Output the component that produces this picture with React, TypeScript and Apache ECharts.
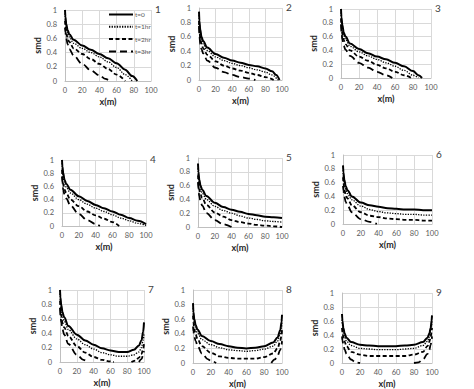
import { useEffect, useRef } from 'react';
import * as echarts from 'echarts';

const SERIES_NAMES = ['t=0', 't=1hr', 't=2hr', 't=3hr'];
const X_AXIS_NAME = 'x(m)';
const Y_AXIS_NAME = 'smd';
const PANEL_LABELS = ['1', '2', '3', '4', '5', '6', '7', '8', '9'];

// Panel 1
const p1_t0 = [[0,1],[0.5,0.9],[1.5,0.8],[3,0.72],[5,0.66],[10,0.58],[20,0.5],[30,0.44],[40,0.38],[50,0.32],[60,0.25],[70,0.16],[78,0.07],[84,0]];
const p1_t1 = [[0,0.95],[0.5,0.85],[1.5,0.75],[3,0.67],[5,0.62],[10,0.53],[20,0.46],[30,0.4],[40,0.34],[50,0.27],[60,0.19],[70,0.09],[78,0]];
const p1_t2 = [[0,0.85],[0.5,0.77],[1.5,0.68],[3,0.6],[5,0.55],[10,0.46],[20,0.38],[30,0.31],[40,0.24],[50,0.17],[60,0.09],[70,0]];
const p1_t3 = [[0,0.75],[0.5,0.68],[1.5,0.6],[3,0.52],[5,0.45],[10,0.36],[20,0.24],[30,0.15],[40,0.08],[47,0.03],[52,0]];
// Panel 2
const p2_t0 = [[0,0.95],[0.5,0.82],[1.5,0.7],[3,0.6],[5,0.54],[10,0.45],[20,0.36],[30,0.31],[40,0.27],[50,0.24],[60,0.21],[70,0.19],[80,0.16],[88,0.12],[93,0.07],[97,0]];
const p2_t1 = [[0,0.9],[0.5,0.77],[1.5,0.65],[3,0.56],[5,0.5],[10,0.41],[20,0.32],[30,0.27],[40,0.23],[50,0.2],[60,0.17],[70,0.14],[80,0.11],[88,0.07],[95,0]];
const p2_t2 = [[0,0.82],[0.5,0.7],[1.5,0.58],[3,0.5],[5,0.44],[10,0.35],[20,0.26],[30,0.2],[40,0.16],[50,0.13],[60,0.1],[70,0.07],[80,0.04],[90,0]];
const p2_t3 = [[0,0.75],[0.5,0.62],[1.5,0.5],[3,0.43],[5,0.37],[10,0.27],[20,0.17],[30,0.11],[40,0.07],[50,0.04],[60,0.02],[68,0]];
// Panel 3
const p3_t0 = [[0,1],[0.5,0.88],[1.5,0.77],[3,0.66],[5,0.6],[10,0.5],[20,0.42],[30,0.36],[40,0.31],[50,0.27],[60,0.22],[70,0.17],[80,0.1],[86,0.04],[90,0]];
const p3_t1 = [[0,0.95],[0.5,0.83],[1.5,0.72],[3,0.62],[5,0.56],[10,0.46],[20,0.38],[30,0.32],[40,0.27],[50,0.22],[60,0.17],[70,0.11],[80,0.04],[86,0]];
const p3_t2 = [[0,0.86],[0.5,0.75],[1.5,0.64],[3,0.55],[5,0.49],[10,0.4],[20,0.31],[30,0.25],[40,0.19],[50,0.14],[60,0.09],[70,0.04],[78,0]];
const p3_t3 = [[0,0.78],[0.5,0.67],[1.5,0.56],[3,0.47],[5,0.41],[10,0.32],[20,0.22],[30,0.15],[40,0.09],[50,0.04],[57,0]];
// Panel 4
const p4_t0 = [[0,1],[0.5,0.9],[1.5,0.8],[3,0.7],[5,0.64],[10,0.55],[20,0.45],[30,0.38],[40,0.32],[50,0.27],[60,0.22],[70,0.17],[80,0.12],[90,0.08],[100,0.03]];
const p4_t1 = [[0,0.95],[0.5,0.84],[1.5,0.73],[3,0.64],[5,0.59],[10,0.5],[20,0.4],[30,0.33],[40,0.27],[50,0.22],[60,0.17],[70,0.12],[80,0.08],[90,0.04],[100,0.01]];
const p4_t2 = [[0,0.85],[0.5,0.74],[1.5,0.63],[3,0.55],[5,0.5],[10,0.4],[20,0.3],[30,0.22],[40,0.16],[50,0.11],[60,0.06],[68,0]];
const p4_t3 = [[0,0.75],[0.5,0.65],[1.5,0.55],[3,0.47],[5,0.42],[10,0.31],[20,0.18],[30,0.09],[40,0.03],[45,0]];
// Panel 5
const p5_t0 = [[0,0.92],[0.5,0.8],[1.5,0.69],[3,0.6],[5,0.54],[10,0.45],[20,0.35],[30,0.29],[40,0.25],[50,0.22],[60,0.19],[70,0.17],[80,0.15],[90,0.14],[100,0.13]];
const p5_t1 = [[0,0.85],[0.5,0.74],[1.5,0.63],[3,0.55],[5,0.49],[10,0.4],[20,0.3],[30,0.24],[40,0.2],[50,0.16],[60,0.13],[70,0.11],[80,0.09],[90,0.08],[100,0.07]];
const p5_t2 = [[0,0.75],[0.5,0.65],[1.5,0.55],[3,0.47],[5,0.42],[10,0.32],[20,0.21],[30,0.15],[40,0.1],[50,0.07],[60,0.05],[70,0.03],[80,0.02],[90,0.01],[100,0]];
const p5_t3 = [[0,0.65],[0.5,0.55],[1.5,0.45],[3,0.37],[5,0.31],[10,0.2],[20,0.1],[30,0.04],[40,0]];
// Panel 6
const p6_t0 = [[0,0.85],[0.5,0.75],[1.5,0.64],[3,0.55],[5,0.49],[10,0.4],[20,0.31],[30,0.27],[40,0.25],[50,0.23],[60,0.22],[70,0.21],[80,0.21],[90,0.2],[100,0.2]];
const p6_t1 = [[0,0.78],[0.5,0.68],[1.5,0.58],[3,0.5],[5,0.44],[10,0.35],[20,0.26],[30,0.21],[40,0.18],[50,0.16],[60,0.15],[70,0.14],[80,0.14],[90,0.13],[100,0.13]];
const p6_t2 = [[0,0.68],[0.5,0.6],[1.5,0.5],[3,0.42],[5,0.37],[10,0.27],[20,0.17],[30,0.12],[40,0.1],[50,0.08],[60,0.07],[70,0.06],[80,0.06],[90,0.05],[100,0.05]];
const p6_t3 = [[0,0.55],[0.5,0.48],[1.5,0.4],[3,0.32],[5,0.27],[10,0.17],[20,0.07],[30,0.03],[38,0]];
// Panel 7
const p7_t0 = [[0,1],[0.5,0.9],[1.5,0.79],[3,0.69],[5,0.62],[10,0.5],[20,0.38],[30,0.3],[40,0.24],[50,0.19],[60,0.16],[70,0.14],[80,0.14],[88,0.17],[94,0.23],[97,0.3],[99,0.42],[100,0.55]];
const p7_t1 = [[0,0.95],[0.5,0.84],[1.5,0.73],[3,0.63],[5,0.57],[10,0.45],[20,0.32],[30,0.24],[40,0.18],[50,0.13],[60,0.1],[70,0.08],[80,0.08],[88,0.1],[94,0.14],[97,0.2],[99,0.3],[100,0.4]];
const p7_t2a = [[0,0.85],[0.5,0.75],[1.5,0.64],[3,0.54],[5,0.48],[10,0.36],[20,0.22],[30,0.13],[40,0.07],[50,0.03],[58,0.01],[64,0]];
const p7_t2b = [[85,0],[90,0.02],[94,0.06],[97,0.11],[99,0.18],[100,0.25]];
const p7_t3a = [[0,0.75],[0.5,0.65],[1.5,0.55],[3,0.45],[5,0.38],[10,0.25],[20,0.1],[28,0.03],[33,0]];
const p7_t3b = [[94,0],[97,0.04],[99,0.1],[100,0.15]];
// Panel 8
const p8_t0 = [[0,0.82],[0.5,0.7],[1.5,0.6],[3,0.52],[5,0.46],[10,0.37],[20,0.3],[30,0.26],[40,0.23],[50,0.21],[60,0.2],[70,0.21],[80,0.23],[90,0.28],[95,0.35],[98,0.45],[99.5,0.56],[100,0.66]];
const p8_t1 = [[0,0.75],[0.5,0.64],[1.5,0.55],[3,0.47],[5,0.41],[10,0.32],[20,0.25],[30,0.21],[40,0.18],[50,0.17],[60,0.16],[70,0.17],[80,0.19],[90,0.23],[95,0.3],[98,0.4],[99.5,0.5],[100,0.58]];
const p8_t2 = [[0,0.65],[0.5,0.55],[1.5,0.46],[3,0.39],[5,0.33],[10,0.23],[20,0.14],[30,0.09],[40,0.07],[50,0.06],[60,0.06],[70,0.06],[80,0.08],[90,0.13],[95,0.2],[98,0.3],[99.5,0.38],[100,0.45]];
const p8_t3a = [[0,0.5],[0.5,0.43],[1.5,0.36],[3,0.3],[5,0.24],[10,0.13],[17,0.05],[20,0.03],[26,0]];
const p8_t3b = [[88,0],[92,0.05],[95,0.1],[98,0.18],[99.5,0.25],[100,0.3]];
// Panel 9
const p9_t0 = [[0,0.7],[0.5,0.6],[1.5,0.5],[3,0.42],[5,0.36],[10,0.3],[20,0.26],[30,0.25],[40,0.24],[50,0.24],[60,0.24],[70,0.25],[80,0.26],[90,0.3],[95,0.36],[97,0.42],[98.5,0.5],[99.5,0.6],[100,0.68]];
const p9_t1 = [[0,0.62],[0.5,0.54],[1.5,0.45],[3,0.37],[5,0.31],[10,0.25],[20,0.21],[30,0.2],[40,0.19],[50,0.19],[60,0.19],[70,0.2],[80,0.21],[90,0.25],[95,0.31],[97,0.37],[98.5,0.45],[99.5,0.54],[100,0.6]];
const p9_t2 = [[0,0.5],[0.5,0.44],[1.5,0.37],[3,0.3],[5,0.24],[10,0.16],[20,0.12],[30,0.1],[40,0.1],[50,0.1],[60,0.1],[70,0.1],[80,0.12],[90,0.16],[95,0.24],[97,0.3],[98.5,0.37],[99.5,0.44],[100,0.5]];
const p9_t3a = [[0,0.38],[0.5,0.32],[1.5,0.26],[3,0.19],[5,0.13],[10,0.05],[15,0.01],[20,0]];
const p9_t3b = [[80,0],[85,0.01],[90,0.05],[95,0.13],[97,0.19],[98.5,0.26],[99.5,0.32],[100,0.38]];

// each panel: four series (t=0..t=3hr), each a list of line segments
const PANELS = [
  [[p1_t0], [p1_t1], [p1_t2], [p1_t3]],
  [[p2_t0], [p2_t1], [p2_t2], [p2_t3]],
  [[p3_t0], [p3_t1], [p3_t2], [p3_t3]],
  [[p4_t0], [p4_t1], [p4_t2], [p4_t3]],
  [[p5_t0], [p5_t1], [p5_t2], [p5_t3]],
  [[p6_t0], [p6_t1], [p6_t2], [p6_t3]],
  [[p7_t0], [p7_t1], [p7_t2a, p7_t2b], [p7_t3a, p7_t3b]],
  [[p8_t0], [p8_t1], [p8_t2], [p8_t3a, p8_t3b]],
  [[p9_t0], [p9_t1], [p9_t2], [p9_t3a, p9_t3b]],
];

const GRIDS = [
  { left: 65, top: 10, width: 86, height: 71 },
  { left: 199, top: 8, width: 83, height: 72 },
  { left: 341, top: 9, width: 90, height: 69 },
  { left: 62, top: 160, width: 84, height: 66 },
  { left: 198, top: 158, width: 84, height: 69 },
  { left: 343, top: 155, width: 89, height: 69 },
  { left: 60, top: 290, width: 84, height: 72 },
  { left: 193, top: 290, width: 89, height: 73 },
  { left: 342, top: 293, width: 90, height: 71 },
];

const LINE_STYLES: any[] = [
  { type: 'solid', width: 2 },
  { type: [1.3, 1.3], width: 1.3 },
  { type: [4, 2.5], width: 1.8 },
  { type: [7, 4], width: 1.8 },
];

const FONT = 'Lato, "Liberation Sans", sans-serif';

export default function App() {
  const ref = useRef<HTMLDivElement>(null);
  useEffect(() => {
    if (!ref.current) return;
    const chart = echarts.init(ref.current, null, { renderer: 'svg' });
    const series: any[] = [];
    PANELS.forEach((panel, pi) => {
      panel.forEach((segs, si) => {
        segs.forEach((seg) => {
          series.push({
            type: 'line',
            name: SERIES_NAMES[si],
            xAxisIndex: pi,
            yAxisIndex: pi,
            data: seg,
            symbol: 'none',
            showSymbol: false,
            smooth: 0.35,
            smoothMonotone: 'x',
            silent: true,
            clip: true,
            lineStyle: { color: '#000', ...LINE_STYLES[si] },
            itemStyle: { color: '#000' },
          });
        });
      });
    });
    const option: any = {
      animation: false,
      backgroundColor: '#fff',
      textStyle: { fontFamily: FONT },
      grid: GRIDS.map((g) => ({ ...g, containLabel: false })),
      xAxis: GRIDS.map((_, i) => ({
        gridIndex: i,
        type: 'value',
        min: 0,
        max: 100,
        interval: 20,
        name: X_AXIS_NAME,
        nameLocation: 'middle',
        nameGap: 16,
        nameTextStyle: { fontSize: 9, fontWeight: 'bold', color: '#262626', fontFamily: FONT },
        axisLine: { show: true, lineStyle: { color: '#bfbfbf', width: 1 } },
        axisTick: { show: false },
        axisLabel: { fontSize: 7.5, color: '#595959', margin: 5, fontFamily: FONT },
        splitLine: { show: true, lineStyle: { color: '#d9d9d9', width: 1 } },
      })),
      yAxis: GRIDS.map((_, i) => ({
        gridIndex: i,
        type: 'value',
        min: 0,
        max: 1,
        interval: 0.2,
        name: Y_AXIS_NAME,
        nameLocation: 'middle',
        nameGap: 23,
        nameRotate: 90,
        nameTextStyle: { fontSize: 9, fontWeight: 'bold', color: '#262626', fontFamily: FONT },
        axisLine: { show: true, lineStyle: { color: '#bfbfbf', width: 1 } },
        axisTick: { show: false },
        axisLabel: { fontSize: 7.5, color: '#595959', margin: 8, fontFamily: FONT },
        splitLine: { show: true, lineStyle: { color: '#d9d9d9', width: 1 } },
      })),
      legend: {
        data: SERIES_NAMES,
        orient: 'vertical',
        left: 103,
        top: 6,
        itemWidth: 24,
        itemHeight: 8,
        itemGap: 5.3,
        selectedMode: false,
        itemStyle: { opacity: 0 },
        textStyle: { fontSize: 6.5, color: '#595959', fontFamily: FONT, padding: [0, 0, 0, -3] },
      },
      graphic: GRIDS.map((g, i) => ({
        type: 'text',
        left: g.left + g.width + 4,
        top: g.top - 6,
        style: { text: PANEL_LABELS[i], fontSize: 10, fill: '#404040', fontFamily: FONT },
      })),
      series,
    };
    chart.setOption(option);
    return () => chart.dispose();
  }, []);
  return <div ref={ref} style={{ position: 'absolute', left: 0, top: 0, width: 474, height: 389 }} />;
}
